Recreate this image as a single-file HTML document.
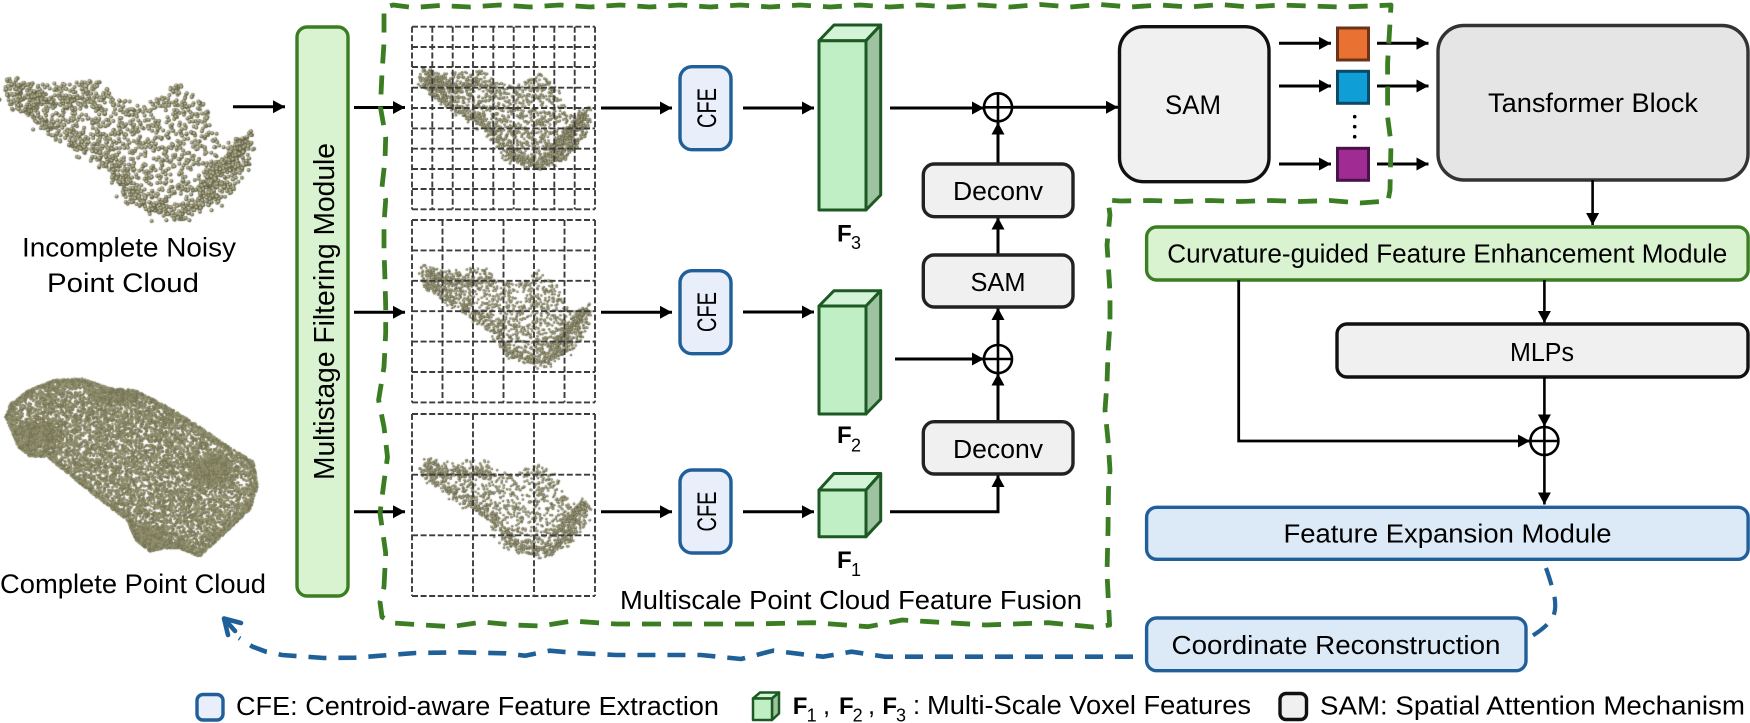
<!DOCTYPE html>
<html><head><meta charset="utf-8"><style>
html,body{margin:0;padding:0;background:#fff;width:1750px;height:723px;overflow:hidden}
#c{position:absolute;left:0;top:0}
svg{position:absolute;left:0;top:0}
text{font-family:"Liberation Sans",sans-serif;fill:#000;font-size:25.5px}
.g{fill:none;stroke:#3c3c3c;stroke-width:1.9;stroke-dasharray:6 2.6}
.a{stroke:#000;stroke-width:3;fill:none;marker-end:url(#h)}
.n{stroke:#000;stroke-width:3;fill:none}
.p{fill:none;stroke:#000;stroke-width:2.6}
.gr{fill:#f0f0f0;stroke:#222;stroke-width:3.4}
.b{fill:#dce9f6;stroke:#215f9a;stroke-width:3.4}
.cf{fill:#e9effa;stroke:#215f9a;stroke-width:3.4}
.gn{fill:#d9f2d0;stroke:#3a7d22;stroke-width:3.4}
.f{fill:#c1efc5;stroke:#1d5a23;stroke-width:3;stroke-linejoin:round}
.t{fill:#d4f4d7;stroke:#1d5a23;stroke-width:3;stroke-linejoin:round}
.s{fill:#9ec3a0;stroke:#1d5a23;stroke-width:3;stroke-linejoin:round}
.bf{font-weight:bold;font-size:24px}
.sb{font-size:18px}
</style></head><body>
<canvas id="c" width="1750" height="723"></canvas>
<svg width="1750" height="723" viewBox="0 0 1750 723" xmlns="http://www.w3.org/2000/svg">
<defs>
<marker id="h" markerUnits="userSpaceOnUse" markerWidth="14" markerHeight="14" refX="12" refY="6.5" orient="auto"><path d="M0,0 L12,6.5 L0,13 Z" fill="#000"/></marker>
</defs>

<!-- grids -->
<path class="g" d="M412 26.7V209.3M432.3 26.7V209.3M452.7 26.7V209.3M473 26.7V209.3M493.3 26.7V209.3M513.7 26.7V209.3M534 26.7V209.3M554.3 26.7V209.3M574.7 26.7V209.3M595 26.7V209.3M412 26.7H595M412 47H595M412 67H595M412 87.7H595M412 108H595M412 128.4H595M412 148.7H595M412 169H595M412 189H595M412 209.3H595"/>
<path class="g" d="M412 220V402.4M442.5 220V402.4M473 220V402.4M503.5 220V402.4M534 220V402.4M564.5 220V402.4M595 220V402.4M412 220H595M412 250.4H595M412 280.8H595M412 311.2H595M412 341.6H595M412 372H595M412 402.4H595"/>
<path class="g" d="M412 414V596M473 414V596M534 414V596M595 414V596M412 414H595M412 474.7H595M412 535.3H595M412 596H595"/>

<!-- filtering module -->
<rect class="gn" x="297" y="27" width="51" height="569" rx="10"/>
<text transform="translate(334,311.5) rotate(-90)" text-anchor="middle" style="font-size:29px" textLength="337" lengthAdjust="spacingAndGlyphs">Multistage Filtering Module</text>

<!-- left arrows -->
<line class="a" x1="233" y1="106.7" x2="285" y2="106.7"/>
<line class="a" x1="354" y1="107.5" x2="405" y2="107.5"/>
<line class="a" x1="354" y1="312.3" x2="405" y2="312.3"/>
<line class="a" x1="354" y1="511.7" x2="405" y2="511.7"/>

<!-- grid to CFE -->
<line class="a" x1="601" y1="108" x2="672" y2="108"/>
<line class="a" x1="601" y1="312.3" x2="672" y2="312.3"/>
<line class="a" x1="601" y1="511.7" x2="672" y2="511.7"/>

<!-- CFE boxes -->
<rect class="cf" x="680" y="66.7" width="51" height="83" rx="12"/>
<rect class="cf" x="680" y="270.7" width="51" height="83" rx="12"/>
<rect class="cf" x="680" y="470" width="51" height="83" rx="12"/>
<text transform="translate(716,108) rotate(-90)" text-anchor="middle" style="font-size:27px" textLength="40" lengthAdjust="spacingAndGlyphs">CFE</text>
<text transform="translate(716,312) rotate(-90)" text-anchor="middle" style="font-size:27px" textLength="40" lengthAdjust="spacingAndGlyphs">CFE</text>
<text transform="translate(716,511.5) rotate(-90)" text-anchor="middle" style="font-size:27px" textLength="40" lengthAdjust="spacingAndGlyphs">CFE</text>

<!-- CFE to cubes -->
<line class="a" x1="743" y1="108" x2="814" y2="108"/>
<line class="a" x1="743" y1="312" x2="814" y2="312"/>
<line class="a" x1="743" y1="511.7" x2="814" y2="511.7"/>

<!-- cubes -->
<polygon class="t" points="819,40.7 834,25 880.7,25 866,40.7"/>
<polygon class="s" points="866,40.7 880.7,25 880.7,195 866,210"/>
<rect class="f" x="819" y="40.7" width="47" height="169.3"/>

<polygon class="t" points="819,306 834,290.7 880.7,290.7 866,306"/>
<polygon class="s" points="866,306 880.7,290.7 880.7,399 866,414"/>
<rect class="f" x="819" y="306" width="47" height="108"/>

<polygon class="t" points="819,490 834,473.5 880.7,473.5 866,490"/>
<polygon class="s" points="866,490 880.7,473.5 880.7,521 866,536.7"/>
<rect class="f" x="819" y="490" width="47" height="46.7"/>

<text class="bf" x="837" y="241.7">F</text><text class="sb" x="851" y="249">3</text>
<text class="bf" x="837" y="443">F</text><text class="sb" x="851" y="451.7">2</text>
<text class="bf" x="837" y="568">F</text><text class="sb" x="851" y="576">1</text>

<!-- middle column -->
<line class="a" x1="890" y1="108" x2="984" y2="108"/>
<line class="a" x1="895" y1="359" x2="984" y2="359"/>
<path class="a" d="M890 511.7H998V475"/>
<line class="a" x1="1012" y1="107.3" x2="1118" y2="107.3"/>
<line class="a" x1="998" y1="164" x2="998" y2="122.5"/>
<line class="a" x1="998" y1="255" x2="998" y2="217.5"/>
<line class="a" x1="998" y1="345" x2="998" y2="308"/>
<line class="a" x1="998" y1="421.7" x2="998" y2="373.5"/>
<circle class="p" cx="998" cy="107.3" r="14"/><path class="p" d="M984 107.3H1012M998 93.3V121.3"/>
<circle class="p" cx="998" cy="359" r="14"/><path class="p" d="M984 359H1012M998 345V373"/>

<rect class="gr" x="923.3" y="164" width="149.7" height="52.7" rx="11"/>
<rect class="gr" x="923.3" y="255" width="149.7" height="52" rx="11"/>
<rect class="gr" x="923.3" y="421.7" width="149.7" height="52.3" rx="11"/>
<text x="998" y="200" text-anchor="middle" textLength="90" lengthAdjust="spacingAndGlyphs">Deconv</text>
<text x="998" y="291" text-anchor="middle" textLength="55" lengthAdjust="spacingAndGlyphs">SAM</text>
<text x="998" y="458" text-anchor="middle" textLength="90" lengthAdjust="spacingAndGlyphs">Deconv</text>

<!-- SAM big -->
<rect class="gr" x="1119.5" y="26.7" width="149.5" height="155" rx="24" style="stroke:#111"/>
<text x="1193" y="114" text-anchor="middle" style="font-size:27px" textLength="56" lengthAdjust="spacingAndGlyphs">SAM</text>

<line class="a" x1="1279" y1="43.3" x2="1331" y2="43.3"/>
<line class="a" x1="1279" y1="86" x2="1331" y2="86"/>
<line class="a" x1="1279" y1="164" x2="1331" y2="164"/>
<rect x="1337.5" y="28" width="31" height="32" fill="#e97132" stroke="#6b3318" stroke-width="3"/>
<rect x="1337.5" y="71.3" width="31" height="32" fill="#0f9ed5" stroke="#0b4a66" stroke-width="3"/>
<rect x="1337.5" y="148.3" width="31" height="32" fill="#a02b93" stroke="#48124a" stroke-width="3"/>
<circle cx="1354.7" cy="116.7" r="1.8"/><circle cx="1354.7" cy="126.7" r="1.8"/><circle cx="1354.7" cy="136.7" r="1.8"/>
<line class="a" x1="1377" y1="43.3" x2="1428.5" y2="43.3"/>
<line class="a" x1="1377" y1="86" x2="1428.5" y2="86"/>
<line class="a" x1="1377" y1="164" x2="1428.5" y2="164"/>

<rect x="1438" y="25.5" width="310" height="154.5" rx="26" fill="#e5e5e5" stroke="#333" stroke-width="3.4"/>
<text x="1593" y="112" text-anchor="middle" style="font-size:27px" textLength="210" lengthAdjust="spacingAndGlyphs">Tansformer Block</text>

<!-- green dashed -->
<path fill="none" stroke="#3a7d22" stroke-width="4.8" stroke-dasharray="19 12" stroke-linejoin="round" d="M384 587L385.7 553L382 527L380 513L384 482L387.5 457L384 427L378.6 400L384 367L385.7 333L385.7 307L385 280L384 250L384 223L385.7 200L382 187L385 160L385.7 137L380.4 107L382 73L384 43L384 8L393 5L413 7.5L440 5.5L470 7L500 5L530 7L560 5L590 7L620 5L650 7L680 5L710 7L740 5L770 7L800 5L830 7L860 5L890 7L920 5L950 7L980 5L1010 7L1040 4.5L1070 7L1100 4.5L1130 7L1160 5L1190 7L1220 4.5L1250 7L1280 5L1310 6L1340 7L1370 6L1391 5L1390 23L1387.6 63L1387.6 117L1391 143L1390 190L1388 201L1360 203L1330 200.5L1300 201.5L1270 200.5L1240 201.5L1210 200.5L1180 201.5L1150 200.5L1120 201L1108 200L1110 215L1107 245L1108 260L1110 293L1110 323L1108 353L1107 383L1105 410L1108 440L1110 470L1108.5 490L1108 530L1107 573L1109.6 625L1093 627L1048 622.7L986 625L930 621.7L902 620L868 626.7L813 622.7L750 624L616 624L572 621L540.5 626L514 625L482.5 622L451 626.7L393 623L382 617L380 602Z"/>

<!-- right column -->
<line class="n" style="stroke-width:2.6;marker-end:url(#h)" x1="1592.6" y1="180" x2="1592.6" y2="225"/>
<rect class="gn" x="1146.6" y="227" width="601.5" height="53" rx="10"/>
<text x="1447.3" y="262.7" text-anchor="middle" textLength="560" lengthAdjust="spacingAndGlyphs">Curvature-guided Feature Enhancement Module</text>
<line class="n" style="stroke-width:2.6;marker-end:url(#h)" x1="1544.4" y1="280" x2="1544.4" y2="323"/>
<rect class="gr" x="1337" y="324" width="411" height="53" rx="10" style="stroke:#111"/>
<text x="1542" y="361" text-anchor="middle" textLength="64" lengthAdjust="spacingAndGlyphs">MLPs</text>
<line class="n" style="stroke-width:2.6;marker-end:url(#h)" x1="1544.4" y1="377" x2="1544.4" y2="426.5"/>
<path class="n" style="stroke-width:2.8;marker-end:url(#h)" d="M1238.7 280V441H1530"/>
<circle class="p" cx="1544.4" cy="441" r="14"/><path class="p" d="M1530.4 441H1558.4M1544.4 427V455"/>
<line class="n" style="stroke-width:2.6;marker-end:url(#h)" x1="1544.4" y1="455" x2="1544.4" y2="504.5"/>
<rect class="b" x="1146.6" y="507.3" width="601.5" height="52" rx="10"/>
<text x="1447.5" y="542.7" text-anchor="middle" textLength="328" lengthAdjust="spacingAndGlyphs">Feature Expansion Module</text>
<rect class="b" x="1146.6" y="618" width="379.4" height="52.7" rx="10"/>
<text x="1336" y="654" text-anchor="middle" textLength="329" lengthAdjust="spacingAndGlyphs">Coordinate Reconstruction</text>

<!-- blue dashed -->
<path fill="none" stroke="#1f6098" stroke-width="4.2" stroke-dasharray="18 12" d="M1546 568Q1552 585 1554.5 597Q1557 612 1551 620Q1545 628 1532 636"/>
<path fill="none" stroke="#1f6098" stroke-width="4.6" stroke-dasharray="18 12" stroke-linejoin="round" d="M1133 656.7L885 656.7L851.5 651.7L823 656.7L773 650.7L741 659L701 655L616 655L581 653.3L549.5 650.7L525 655.7L505 653.3L460 652.3L415.5 653L355 657.7L324 658L282 655L266 651.7L252.6 646.7L239 638"/>
<path fill="none" stroke="#1f6098" stroke-width="4.6" stroke-linecap="round" stroke-linejoin="round" d="M228 635L224 618.5L241 623M224 618.5L235 631"/>

<!-- labels -->
<text x="129" y="256.7" text-anchor="middle" textLength="214" lengthAdjust="spacingAndGlyphs" style="font-size:27px">Incomplete Noisy</text>
<text x="123" y="292" text-anchor="middle" textLength="152" lengthAdjust="spacingAndGlyphs" style="font-size:27px">Point Cloud</text>
<text x="133" y="593" text-anchor="middle" textLength="266" lengthAdjust="spacingAndGlyphs" style="font-size:27px">Complete Point Cloud</text>
<text x="851" y="609" text-anchor="middle" textLength="462" lengthAdjust="spacingAndGlyphs">Multiscale Point Cloud Feature Fusion</text>

<!-- legend -->
<rect class="cf" x="197" y="694.5" width="26" height="25.5" rx="6"/>
<text x="236" y="715" textLength="483" lengthAdjust="spacingAndGlyphs">CFE: Centroid-aware Feature Extraction</text>
<polygon class="t" style="stroke-width:2.5" points="753,698.5 760,692.5 779,692.5 772,698.5"/>
<polygon class="s" style="stroke-width:2.5" points="772,698.5 779,692.5 779,713.5 772,720"/>
<rect class="f" style="stroke-width:2.5" x="753" y="698.5" width="19" height="21.5"/>
<text class="bf" x="792.7" y="714">F</text><text class="sb" x="806.6" y="721.5">1</text><text x="823" y="714">,</text>
<text class="bf" x="839" y="714">F</text><text class="sb" x="852.6" y="721.5">2</text><text x="868" y="714">,</text>
<text class="bf" x="882.4" y="714">F</text><text class="sb" x="896" y="721.5">3</text><text x="913" y="714">:</text>
<text x="927" y="714" textLength="324" lengthAdjust="spacingAndGlyphs">Multi-Scale Voxel Features</text>
<rect class="gr" x="1280" y="693.5" width="26.5" height="26" rx="6" style="stroke:#111"/>
<text x="1320" y="714.3" textLength="425" lengthAdjust="spacingAndGlyphs">SAM: Spatial Attention Mechanism</text>
</svg>
<script>
(function(){
var ctx=document.getElementById('c').getContext('2d');
var s=12345;
function R(){s=(s*1664525+1013904223)>>>0;var t=s^(s>>>15);t=(t*2654435761)>>>0;return ((t^(t>>>13))>>>0)/4294967296;}
function G(){return (R()+R()+R()-1.5)/0.87;}
function inP(P,x,y){var c=false;for(var i=0,j=P.length-1;i<P.length;j=i++){var a=P[i],b=P[j];if((a[1]>y)!=(b[1]>y)&&x<(b[0]-a[0])*(y-a[1])/(b[1]-a[1])+a[0])c=!c;}return c;}
var inc=[[5,270],[20,225],[100,250],[200,245],[280,240],[330,290],[400,310],[500,250],[580,320],[590,370],[630,430],[710,390],[715,450],[690,520],[640,590],[590,620],[500,650],[420,640],[350,590],[310,510],[200,440],[100,370],[40,340]];
var inS1=[[30,290],[150,390],[300,480],[380,600],[500,640],[600,590],[680,470]];
var inS2=[[560,570],[640,480],[690,420]];
var inS3=[[40,270],[120,300],[300,300]];
function strip(S,jit){var i=Math.floor(R()*(S.length-1)),t=R(),a=S[i],b=S[i+1];return [a[0]+(b[0]-a[0])*t+G()*jit,a[1]+(b[1]-a[1])*t+G()*jit];}
function cloud(n,sx,sy,ox,oy,r){
 var pts=[];
 var k=0;
 while(pts.length<n&&k<n*40){k++;
  var u=R(),p;
  if(u<.74){p=[R()*720,215+R()*440];if(!inP(inc,p[0],p[1]))continue;}
  else if(u<.88)p=strip(inS1,26);
  else if(u<.95)p=strip(inS2,16);
  else p=strip(inS3,24);
  pts.push(p);
 }
 pts.forEach(function(p){
  var x=ox+p[0]/2.8*sx,y=oy+(p[1]-72*3)/3*sy;
  ctx.fillStyle='#65644a';ctx.beginPath();ctx.arc(x,y,r,0,7);ctx.fill();
  ctx.fillStyle='#bdbb9a';ctx.beginPath();ctx.arc(x-r*.2,y-r*.2,r*.6,0,7);ctx.fill();
 });
}
cloud(2000,1,1,0,72,2.0);
cloud(2100,.685,.705,417,65,1.35);
cloud(1900,.685,.705,417,262,1.25);
cloud(1600,.685,.705,417,453,1.3);
var car=[[15,350],[30,310],[80,270],[150,240],[230,235],[310,265],[380,270],[470,320],[560,380],[640,440],[710,485],[722,560],[700,630],[640,690],[560,770],[500,745],[460,745],[420,755],[380,720],[355,660],[280,600],[200,530],[130,470],[85,470],[50,440],[35,400]];
function carPt(){for(var i=0;i<50;i++){var x=10+R()*715,y=230+R()*545;if(inP(car,x,y))return [x,y];}return [300,400];}
function drawCar(x,y,r){
 var px=x/2.8,py=300+y/3;
 ctx.fillStyle=R()<.5?'#6f6e50':'#8b8a69';ctx.beginPath();ctx.arc(px,py,r,0,7);ctx.fill();
 ctx.fillStyle='#a5a382';ctx.beginPath();ctx.arc(px-.25,py-.25,r*.45,0,7);ctx.fill();
}
var i;
for(i=0;i<8800;i++){var p=carPt();drawCar(p[0],p[1],1.25);}
for(i=0;i<4000;i++){var e=strip(car.concat([car[0]]),14);if(inP(car,e[0],e[1]))drawCar(e[0],e[1],1.2);}
var blobs=[[590,510,48,34,1000],[110,400,50,30,800],[420,710,40,26,500],[330,290,60,18,400]];
blobs.forEach(function(b){for(var j=0;j<b[4];j++){var x=b[0]+G()*b[2],y=b[1]+G()*b[3];if(inP(car,x,y))drawCar(x,y,1.2);}});
})();
</script>
</body></html>
